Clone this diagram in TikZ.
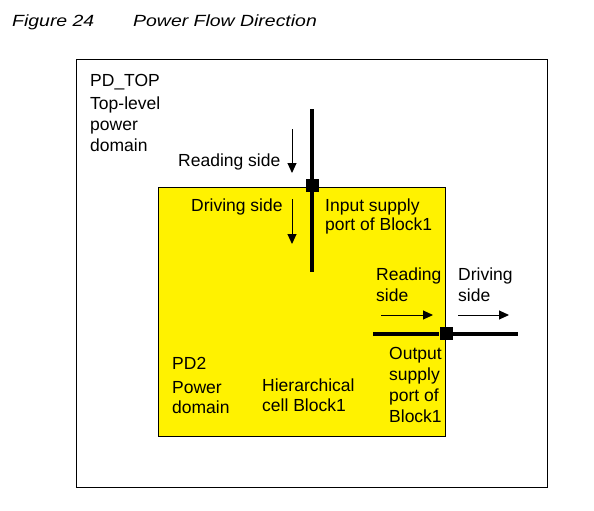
\documentclass[tikz,border=0pt]{standalone}
\usepackage{fontspec}
\setmainfont{Liberation Sans}
\newfontfamily\titlefont{Liberation Sans}[FakeStretch=1.2]
\usetikzlibrary{arrows.meta}
\begin{document}
\begin{tikzpicture}[x=1pt,y=-1pt,
  lbl/.style={anchor=base west,inner sep=0pt,font=\fontsize{17.5}{21}\selectfont},
  ttl/.style={anchor=base west,inner sep=0pt,font=\titlefont\itshape\fontsize{16.2}{19}\selectfont},
  wire/.style={line width=4pt},
  port/.style={fill=black,minimum size=13pt,inner sep=0pt,draw=none},
  flow/.style={line width=1pt,-{Triangle[length=10pt,width=9pt]}}]
\useasboundingbox (0,0) rectangle (594,511);
% title
\node[ttl] (fig) at (12,27) {Figure 24};
\node[ttl] (ttl2) at (133,27) {Power Flow Direction};
% outer domain
\draw[line width=1pt] (76,60) rectangle (547,487);
% block
\draw[line width=1pt,fill=yellow] (158,187) rectangle (445,436);
% top-level texts
\node[lbl] (pdtop) at (90,86) {PD\_TOP};
\node[lbl] (tl1) at (90,109) {Top-level};
\node[lbl] (tl2) at (90,130) {power};
\node[lbl] (tl3) at (90,151) {domain};
% input port
\coordinate (vtop) at (312,109);
\coordinate (vbot) at (312,272);
\node[port] (inport) at (312,185.5) {};
\draw[wire] (vtop) -- (inport) -- (vbot);
\node[lbl] (rs1) at (178,166.5) {Reading side};
\node[lbl] (ds1) at (191,211.5) {Driving side};
\coordinate (a1s) at (292,129);
\coordinate (a1e) at (292,173);
\coordinate (a2s) at (292,199);
\coordinate (a2e) at (292,244);
\draw[flow] (a1s) -- (a1e);
\draw[flow] (a2s) -- (a2e);
\node[lbl] (ip1) at (325,211) {Input supply};
\node[lbl] (ip2) at (325,230) {port of Block1};
% output port
\coordinate (hl) at (373,333.5);
\coordinate (hr) at (518,333.5);
\node[port] (outport) at (446,333.5) {};
\draw[wire] (hl) -- (outport) -- (hr);
\node[lbl] (rs2a) at (376,280.7) {Reading};
\node[lbl] (rs2b) at (376,301.7) {side};
\node[lbl] (ds2a) at (458,280.7) {Driving};
\node[lbl] (ds2b) at (458,301.7) {side};
\coordinate (a3s) at (381,315);
\coordinate (a3e) at (433,315);
\coordinate (a4s) at (458,315);
\coordinate (a4e) at (509,315);
\draw[flow] (a3s) -- (a3e);
\draw[flow] (a4s) -- (a4e);
\node[lbl] (op1) at (389,359) {Output};
\node[lbl] (op2) at (389,380) {supply};
\node[lbl] (op3) at (389,401) {port of};
\node[lbl] (op4) at (389,422) {Block1};
% PD2 texts
\node[lbl] (pd2) at (172,369.3) {PD2};
\node[lbl] (pd2b) at (172,393.3) {Power};
\node[lbl] (pd2c) at (172,413.3) {domain};
\node[lbl] (hc1) at (262,391.7) {Hierarchical};
\node[lbl] (hc2) at (262,411.7) {cell Block1};
\end{tikzpicture}
\end{document}
